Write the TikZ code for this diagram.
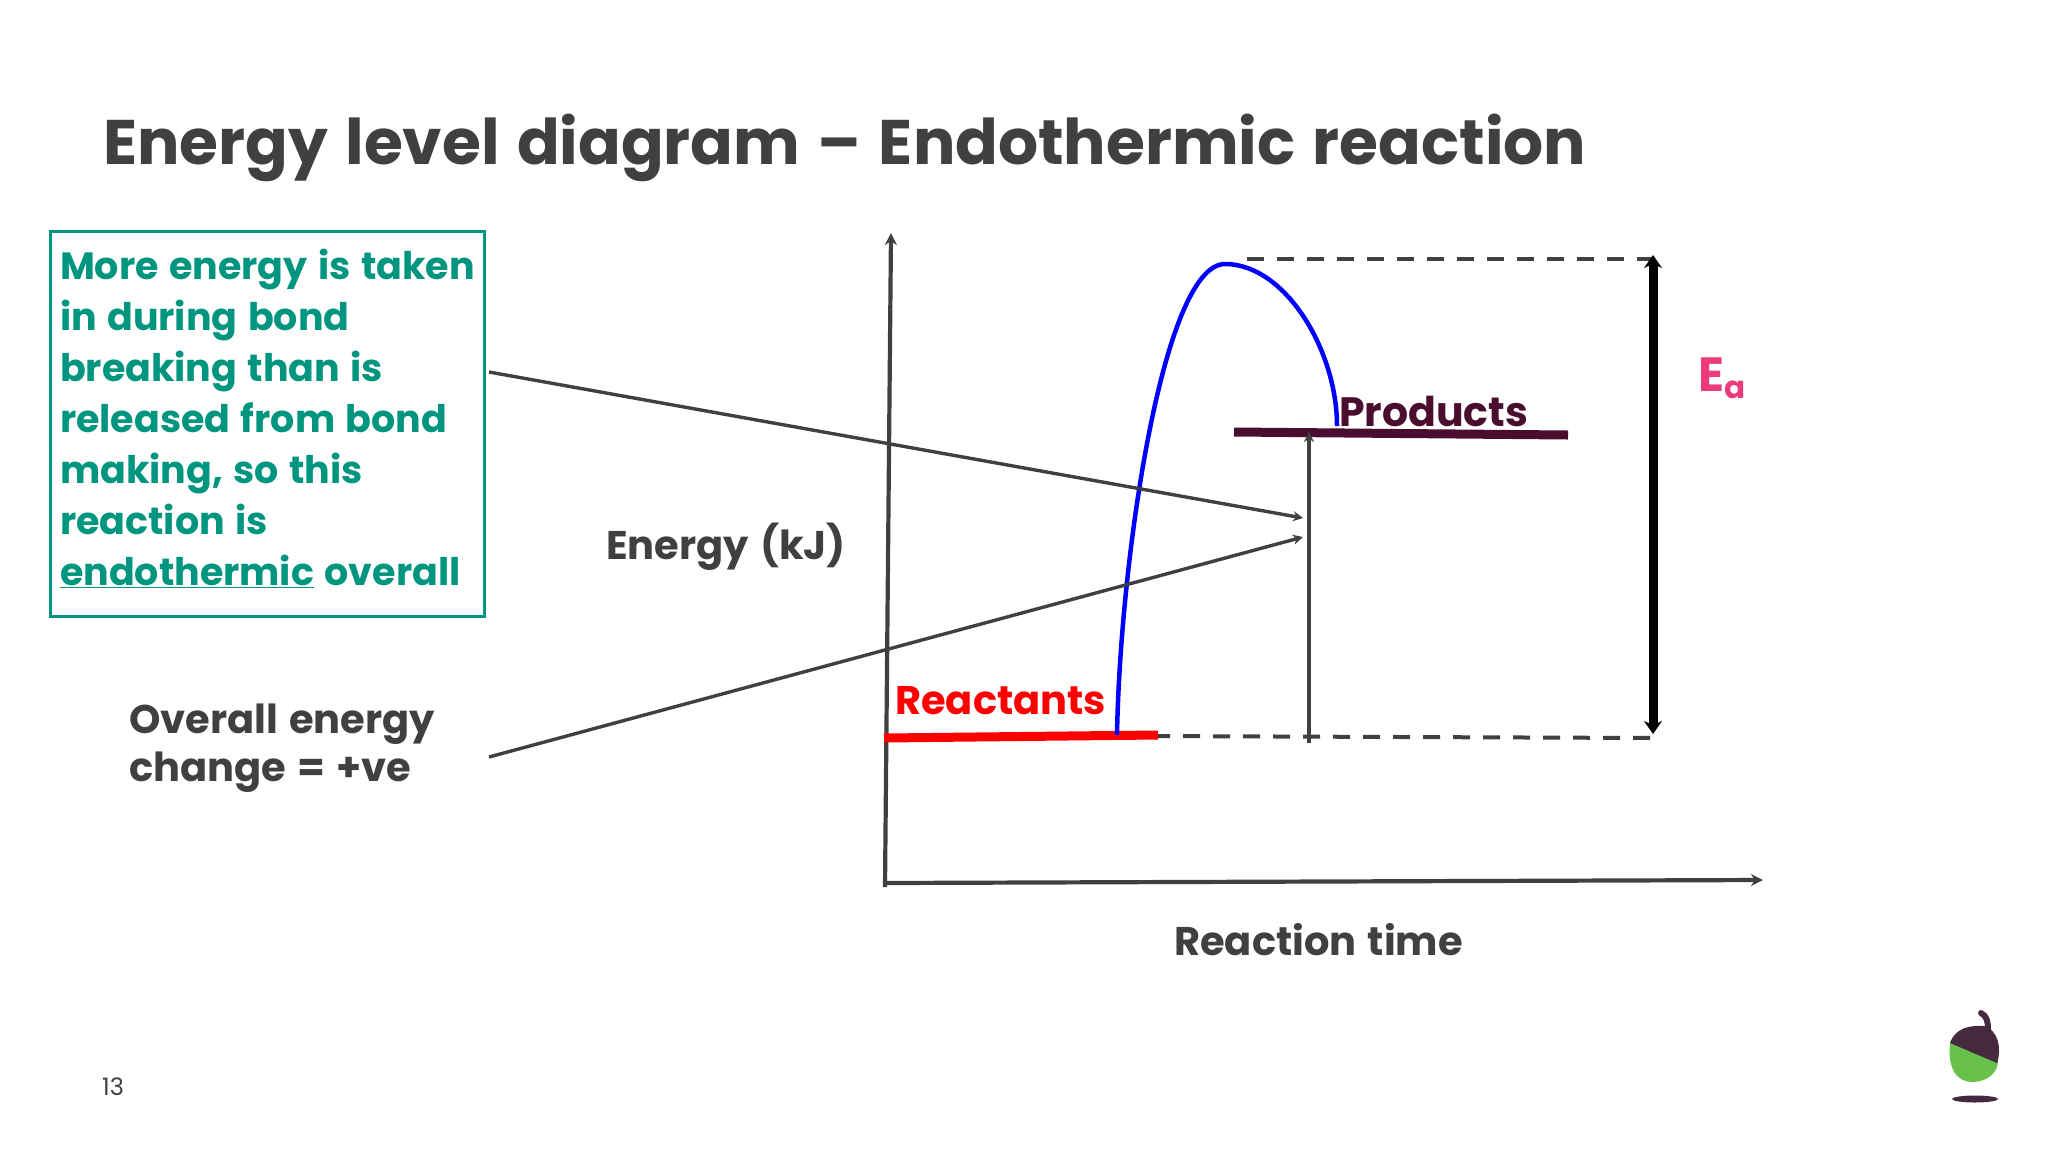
\documentclass[tikz,border=0pt]{standalone}
\usepackage{fontspec}
\setmainfont[WordSpace=1.3]{Poppins}
\usetikzlibrary{arrows.meta}
\definecolor{slate}{HTML}{404040}
\definecolor{teal2}{HTML}{00957F}
\definecolor{plum}{HTML}{4A0D2E}
\definecolor{rose}{HTML}{EC3A7C}
\definecolor{capcol}{HTML}{45293F}
\definecolor{leaf}{HTML}{68C14A}
\tikzset{
  word/.style={anchor=base west,inner sep=0pt,text=slate,font=\fontsize{40}{46}\selectfont\bfseries},
  axis/.style={draw=slate,line width=4.2pt,-{Stealth[length=12pt,width=12pt]}},
  pointer/.style={draw=slate,line width=3.4pt,-{Stealth[length=10pt,width=10pt]}},
  guide/.style={draw=slate,line width=4pt,dash pattern=on 17pt off 13pt},
  level/.style={line width=9pt}
}
\begin{document}
\begin{tikzpicture}[x=1pt,y=-1pt]
  \useasboundingbox (0,0) rectangle (2048,1152);
  \node[word,font=\fontsize{63}{70}\selectfont\bfseries] (title) at (103,164) {Energy level diagram – Endothermic reaction};
  \node[anchor=north west,draw=teal2,line width=3pt,text=teal2,minimum width=433pt,minimum height=385pt,
        inner xsep=10pt,inner ysep=0pt,align=left,font=\fontsize{38}{51}\selectfont\bfseries] (note) at (48.5,230)
    {More energy is taken\\in during bond\\breaking than is\\released from bond\\making, so this\\reaction is\\\underline{endothermic} overall\rule[-14pt]{0pt}{14pt}};
  \node[word] (energy) at (606,559) {Energy (kJ)};
  \node[word] (change-1) at (129,733) {Overall energy};
  \node[word] (change-2) at (129,781) {change = +ve};
  \node[word] (time) at (1174,955) {Reaction time};
  \node[word,text=red,font=\fontsize{40}{46}\selectfont\bfseries] (reactants) at (895,714) {Reactants};
  \node[word,text=plum,font=\fontsize{41}{46}\selectfont\bfseries] (products) at (1339,426) {Products};
  \node[word,text=rose,font=\fontsize{48}{50}\selectfont\bfseries] (Ea) at (1698,391) {E\raisebox{-7pt}{\fontsize{31}{30}\selectfont a}};
  \node[word,font=\fontsize{24}{26}\selectfont] (page) at (102,1095) {13};

  \coordinate (O-1) at (885,887);
  \coordinate (O-2) at (891,233);
  \coordinate (O-3) at (886,883);
  \coordinate (O-4) at (1763,880);
  \draw[axis] (O-1) -- (O-2);
  \draw[axis] (O-3) -- (O-4);

  \coordinate (R-1) at (884,738);
  \coordinate (R-2) at (1158,735);
  \coordinate (P-1) at (1234,432);
  \coordinate (P-2) at (1568,435);
  \coordinate (D-1) at (1153,736);
  \coordinate (D-2) at (1652,738);
  \coordinate (D-3) at (1247,259);
  \coordinate (D-4) at (1652,259);
  \draw[guide] (D-1) -- (D-2);
  \draw[guide] (D-3) -- (D-4);
  \draw[level,red] (R-1) -- (R-2);
  \draw[level,plum] (P-1) -- (P-2);

  \coordinate (C-1) at (1117,735);
  \coordinate (C-2) at (1225,264);
  \coordinate (C-3) at (1337,426);
  \draw[blue,line width=4.5pt] (C-1) .. controls (1120,560) and (1163,264) .. (C-2)
    .. controls (1285,264) and (1337,350) .. (C-3);

  \coordinate (V-1) at (1309,743);
  \coordinate (V-2) at (1309,432);
  \draw[pointer] (V-1) -- (V-2);
  \coordinate (A-1) at (489,372);
  \coordinate (A-2) at (1303,518);
  \coordinate (A-3) at (489,757);
  \coordinate (A-4) at (1303,537);
  \draw[pointer] (A-1) -- (A-2);
  \draw[pointer] (A-3) -- (A-4);

  \coordinate (E-1) at (1653,734);
  \coordinate (E-2) at (1653,255);
  \draw[black,line width=9pt,{Stealth[length=13pt,width=18pt]}-{Stealth[length=13pt,width=18pt]}] (E-1) -- (E-2);

  \fill[leaf] (1950,1043) .. controls (1947,1070) and (1958,1082) .. (1972,1082)
    .. controls (1988,1082) and (1998,1072) .. (1998,1061) -- cycle;
  \fill[capcol] (1950,1043) .. controls (1955,1028) and (1970,1025) .. (1984,1026)
    .. controls (1998,1030) and (2002,1048) .. (1997,1063) -- cycle;
  \draw[capcol,line width=6pt,line cap=round] (1981,1013) .. controls (1987,1016) and (1988,1022) .. (1988,1030);
  \fill[capcol] (1975,1099) ellipse (23pt and 3.5pt);
\end{tikzpicture}
\end{document}
